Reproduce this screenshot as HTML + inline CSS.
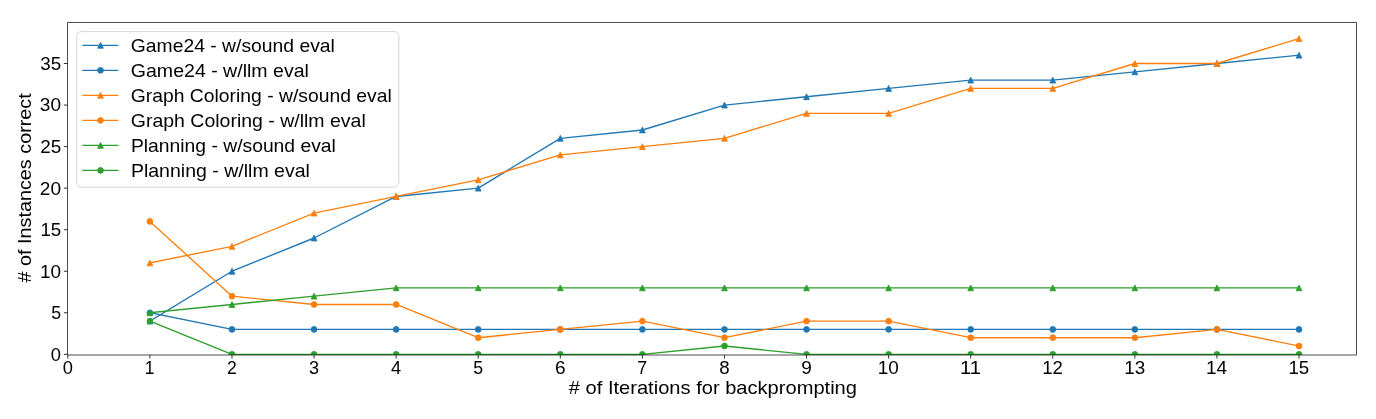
<!DOCTYPE html>
<html><head><meta charset="utf-8"><title>Backprompting chart</title>
<style>
html,body{margin:0;padding:0;background:#fff;}
body{width:1376px;height:419px;overflow:hidden;font-family:"Liberation Sans", sans-serif;}
svg{display:block;will-change:transform;}
</style></head><body>
<svg width="1376" height="419" viewBox="0 0 1376 419">
<defs><clipPath id="ax"><rect x="67.5" y="22.5" width="1289.0" height="332.50"/></clipPath></defs>
<rect width="1376" height="419" fill="#fff"/>
<g clip-path="url(#ax)">
<polyline points="149.90,321.09 231.98,271.24 314.06,238.00 396.14,196.46 478.22,188.15 560.30,138.30 642.38,129.99 724.46,105.06 806.54,96.75 888.62,88.44 970.70,80.13 1052.78,80.13 1134.86,71.82 1216.94,63.51 1299.02,55.21" fill="none" stroke="#1f77b4" stroke-width="1.35" stroke-linejoin="round" stroke-linecap="square"/>
<path d="M149.90 318.19L147.00 323.99L152.80 323.99Z" fill="#1f77b4" stroke="#1f77b4" stroke-width="0.86" stroke-linejoin="round"/>
<path d="M231.98 268.34L229.08 274.14L234.88 274.14Z" fill="#1f77b4" stroke="#1f77b4" stroke-width="0.86" stroke-linejoin="round"/>
<path d="M314.06 235.10L311.16 240.90L316.96 240.90Z" fill="#1f77b4" stroke="#1f77b4" stroke-width="0.86" stroke-linejoin="round"/>
<path d="M396.14 193.56L393.24 199.36L399.04 199.36Z" fill="#1f77b4" stroke="#1f77b4" stroke-width="0.86" stroke-linejoin="round"/>
<path d="M478.22 185.25L475.32 191.05L481.12 191.05Z" fill="#1f77b4" stroke="#1f77b4" stroke-width="0.86" stroke-linejoin="round"/>
<path d="M560.30 135.40L557.40 141.20L563.20 141.20Z" fill="#1f77b4" stroke="#1f77b4" stroke-width="0.86" stroke-linejoin="round"/>
<path d="M642.38 127.09L639.48 132.89L645.28 132.89Z" fill="#1f77b4" stroke="#1f77b4" stroke-width="0.86" stroke-linejoin="round"/>
<path d="M724.46 102.16L721.56 107.96L727.36 107.96Z" fill="#1f77b4" stroke="#1f77b4" stroke-width="0.86" stroke-linejoin="round"/>
<path d="M806.54 93.85L803.64 99.65L809.44 99.65Z" fill="#1f77b4" stroke="#1f77b4" stroke-width="0.86" stroke-linejoin="round"/>
<path d="M888.62 85.54L885.72 91.34L891.52 91.34Z" fill="#1f77b4" stroke="#1f77b4" stroke-width="0.86" stroke-linejoin="round"/>
<path d="M970.70 77.23L967.80 83.03L973.60 83.03Z" fill="#1f77b4" stroke="#1f77b4" stroke-width="0.86" stroke-linejoin="round"/>
<path d="M1052.78 77.23L1049.88 83.03L1055.68 83.03Z" fill="#1f77b4" stroke="#1f77b4" stroke-width="0.86" stroke-linejoin="round"/>
<path d="M1134.86 68.92L1131.96 74.72L1137.76 74.72Z" fill="#1f77b4" stroke="#1f77b4" stroke-width="0.86" stroke-linejoin="round"/>
<path d="M1216.94 60.61L1214.04 66.41L1219.84 66.41Z" fill="#1f77b4" stroke="#1f77b4" stroke-width="0.86" stroke-linejoin="round"/>
<path d="M1299.02 52.31L1296.12 58.11L1301.92 58.11Z" fill="#1f77b4" stroke="#1f77b4" stroke-width="0.86" stroke-linejoin="round"/>
<polyline points="149.90,312.78 231.98,329.40 314.06,329.40 396.14,329.40 478.22,329.40 560.30,329.40 642.38,329.40 724.46,329.40 806.54,329.40 888.62,329.40 970.70,329.40 1052.78,329.40 1134.86,329.40 1216.94,329.40 1299.02,329.40" fill="none" stroke="#1f77b4" stroke-width="1.35" stroke-linejoin="round" stroke-linecap="square"/>
<circle cx="149.90" cy="312.78" r="2.90" fill="#1f77b4" stroke="#1f77b4" stroke-width="0.86"/>
<circle cx="231.98" cy="329.40" r="2.90" fill="#1f77b4" stroke="#1f77b4" stroke-width="0.86"/>
<circle cx="314.06" cy="329.40" r="2.90" fill="#1f77b4" stroke="#1f77b4" stroke-width="0.86"/>
<circle cx="396.14" cy="329.40" r="2.90" fill="#1f77b4" stroke="#1f77b4" stroke-width="0.86"/>
<circle cx="478.22" cy="329.40" r="2.90" fill="#1f77b4" stroke="#1f77b4" stroke-width="0.86"/>
<circle cx="560.30" cy="329.40" r="2.90" fill="#1f77b4" stroke="#1f77b4" stroke-width="0.86"/>
<circle cx="642.38" cy="329.40" r="2.90" fill="#1f77b4" stroke="#1f77b4" stroke-width="0.86"/>
<circle cx="724.46" cy="329.40" r="2.90" fill="#1f77b4" stroke="#1f77b4" stroke-width="0.86"/>
<circle cx="806.54" cy="329.40" r="2.90" fill="#1f77b4" stroke="#1f77b4" stroke-width="0.86"/>
<circle cx="888.62" cy="329.40" r="2.90" fill="#1f77b4" stroke="#1f77b4" stroke-width="0.86"/>
<circle cx="970.70" cy="329.40" r="2.90" fill="#1f77b4" stroke="#1f77b4" stroke-width="0.86"/>
<circle cx="1052.78" cy="329.40" r="2.90" fill="#1f77b4" stroke="#1f77b4" stroke-width="0.86"/>
<circle cx="1134.86" cy="329.40" r="2.90" fill="#1f77b4" stroke="#1f77b4" stroke-width="0.86"/>
<circle cx="1216.94" cy="329.40" r="2.90" fill="#1f77b4" stroke="#1f77b4" stroke-width="0.86"/>
<circle cx="1299.02" cy="329.40" r="2.90" fill="#1f77b4" stroke="#1f77b4" stroke-width="0.86"/>
<polyline points="149.90,262.93 231.98,246.31 314.06,213.08 396.14,196.46 478.22,179.84 560.30,154.91 642.38,146.60 724.46,138.30 806.54,113.37 888.62,113.37 970.70,88.44 1052.78,88.44 1134.86,63.51 1216.94,63.51 1299.02,38.59" fill="none" stroke="#ff7f0e" stroke-width="1.35" stroke-linejoin="round" stroke-linecap="square"/>
<path d="M149.90 260.03L147.00 265.83L152.80 265.83Z" fill="#ff7f0e" stroke="#ff7f0e" stroke-width="0.86" stroke-linejoin="round"/>
<path d="M231.98 243.41L229.08 249.21L234.88 249.21Z" fill="#ff7f0e" stroke="#ff7f0e" stroke-width="0.86" stroke-linejoin="round"/>
<path d="M314.06 210.18L311.16 215.98L316.96 215.98Z" fill="#ff7f0e" stroke="#ff7f0e" stroke-width="0.86" stroke-linejoin="round"/>
<path d="M396.14 193.56L393.24 199.36L399.04 199.36Z" fill="#ff7f0e" stroke="#ff7f0e" stroke-width="0.86" stroke-linejoin="round"/>
<path d="M478.22 176.94L475.32 182.74L481.12 182.74Z" fill="#ff7f0e" stroke="#ff7f0e" stroke-width="0.86" stroke-linejoin="round"/>
<path d="M560.30 152.01L557.40 157.81L563.20 157.81Z" fill="#ff7f0e" stroke="#ff7f0e" stroke-width="0.86" stroke-linejoin="round"/>
<path d="M642.38 143.70L639.48 149.50L645.28 149.50Z" fill="#ff7f0e" stroke="#ff7f0e" stroke-width="0.86" stroke-linejoin="round"/>
<path d="M724.46 135.40L721.56 141.20L727.36 141.20Z" fill="#ff7f0e" stroke="#ff7f0e" stroke-width="0.86" stroke-linejoin="round"/>
<path d="M806.54 110.47L803.64 116.27L809.44 116.27Z" fill="#ff7f0e" stroke="#ff7f0e" stroke-width="0.86" stroke-linejoin="round"/>
<path d="M888.62 110.47L885.72 116.27L891.52 116.27Z" fill="#ff7f0e" stroke="#ff7f0e" stroke-width="0.86" stroke-linejoin="round"/>
<path d="M970.70 85.54L967.80 91.34L973.60 91.34Z" fill="#ff7f0e" stroke="#ff7f0e" stroke-width="0.86" stroke-linejoin="round"/>
<path d="M1052.78 85.54L1049.88 91.34L1055.68 91.34Z" fill="#ff7f0e" stroke="#ff7f0e" stroke-width="0.86" stroke-linejoin="round"/>
<path d="M1134.86 60.61L1131.96 66.41L1137.76 66.41Z" fill="#ff7f0e" stroke="#ff7f0e" stroke-width="0.86" stroke-linejoin="round"/>
<path d="M1216.94 60.61L1214.04 66.41L1219.84 66.41Z" fill="#ff7f0e" stroke="#ff7f0e" stroke-width="0.86" stroke-linejoin="round"/>
<path d="M1299.02 35.69L1296.12 41.49L1301.92 41.49Z" fill="#ff7f0e" stroke="#ff7f0e" stroke-width="0.86" stroke-linejoin="round"/>
<polyline points="149.90,221.39 231.98,296.17 314.06,304.48 396.14,304.48 478.22,337.71 560.30,329.40 642.38,321.09 724.46,337.71 806.54,321.09 888.62,321.09 970.70,337.71 1052.78,337.71 1134.86,337.71 1216.94,329.40 1299.02,346.02" fill="none" stroke="#ff7f0e" stroke-width="1.35" stroke-linejoin="round" stroke-linecap="square"/>
<circle cx="149.90" cy="221.39" r="2.90" fill="#ff7f0e" stroke="#ff7f0e" stroke-width="0.86"/>
<circle cx="231.98" cy="296.17" r="2.90" fill="#ff7f0e" stroke="#ff7f0e" stroke-width="0.86"/>
<circle cx="314.06" cy="304.48" r="2.90" fill="#ff7f0e" stroke="#ff7f0e" stroke-width="0.86"/>
<circle cx="396.14" cy="304.48" r="2.90" fill="#ff7f0e" stroke="#ff7f0e" stroke-width="0.86"/>
<circle cx="478.22" cy="337.71" r="2.90" fill="#ff7f0e" stroke="#ff7f0e" stroke-width="0.86"/>
<circle cx="560.30" cy="329.40" r="2.90" fill="#ff7f0e" stroke="#ff7f0e" stroke-width="0.86"/>
<circle cx="642.38" cy="321.09" r="2.90" fill="#ff7f0e" stroke="#ff7f0e" stroke-width="0.86"/>
<circle cx="724.46" cy="337.71" r="2.90" fill="#ff7f0e" stroke="#ff7f0e" stroke-width="0.86"/>
<circle cx="806.54" cy="321.09" r="2.90" fill="#ff7f0e" stroke="#ff7f0e" stroke-width="0.86"/>
<circle cx="888.62" cy="321.09" r="2.90" fill="#ff7f0e" stroke="#ff7f0e" stroke-width="0.86"/>
<circle cx="970.70" cy="337.71" r="2.90" fill="#ff7f0e" stroke="#ff7f0e" stroke-width="0.86"/>
<circle cx="1052.78" cy="337.71" r="2.90" fill="#ff7f0e" stroke="#ff7f0e" stroke-width="0.86"/>
<circle cx="1134.86" cy="337.71" r="2.90" fill="#ff7f0e" stroke="#ff7f0e" stroke-width="0.86"/>
<circle cx="1216.94" cy="329.40" r="2.90" fill="#ff7f0e" stroke="#ff7f0e" stroke-width="0.86"/>
<circle cx="1299.02" cy="346.02" r="2.90" fill="#ff7f0e" stroke="#ff7f0e" stroke-width="0.86"/>
<polyline points="149.90,312.78 231.98,304.48 314.06,296.17 396.14,287.86 478.22,287.86 560.30,287.86 642.38,287.86 724.46,287.86 806.54,287.86 888.62,287.86 970.70,287.86 1052.78,287.86 1134.86,287.86 1216.94,287.86 1299.02,287.86" fill="none" stroke="#2ca02c" stroke-width="1.35" stroke-linejoin="round" stroke-linecap="square"/>
<path d="M149.90 309.88L147.00 315.68L152.80 315.68Z" fill="#2ca02c" stroke="#2ca02c" stroke-width="0.86" stroke-linejoin="round"/>
<path d="M231.98 301.58L229.08 307.38L234.88 307.38Z" fill="#2ca02c" stroke="#2ca02c" stroke-width="0.86" stroke-linejoin="round"/>
<path d="M314.06 293.27L311.16 299.07L316.96 299.07Z" fill="#2ca02c" stroke="#2ca02c" stroke-width="0.86" stroke-linejoin="round"/>
<path d="M396.14 284.96L393.24 290.76L399.04 290.76Z" fill="#2ca02c" stroke="#2ca02c" stroke-width="0.86" stroke-linejoin="round"/>
<path d="M478.22 284.96L475.32 290.76L481.12 290.76Z" fill="#2ca02c" stroke="#2ca02c" stroke-width="0.86" stroke-linejoin="round"/>
<path d="M560.30 284.96L557.40 290.76L563.20 290.76Z" fill="#2ca02c" stroke="#2ca02c" stroke-width="0.86" stroke-linejoin="round"/>
<path d="M642.38 284.96L639.48 290.76L645.28 290.76Z" fill="#2ca02c" stroke="#2ca02c" stroke-width="0.86" stroke-linejoin="round"/>
<path d="M724.46 284.96L721.56 290.76L727.36 290.76Z" fill="#2ca02c" stroke="#2ca02c" stroke-width="0.86" stroke-linejoin="round"/>
<path d="M806.54 284.96L803.64 290.76L809.44 290.76Z" fill="#2ca02c" stroke="#2ca02c" stroke-width="0.86" stroke-linejoin="round"/>
<path d="M888.62 284.96L885.72 290.76L891.52 290.76Z" fill="#2ca02c" stroke="#2ca02c" stroke-width="0.86" stroke-linejoin="round"/>
<path d="M970.70 284.96L967.80 290.76L973.60 290.76Z" fill="#2ca02c" stroke="#2ca02c" stroke-width="0.86" stroke-linejoin="round"/>
<path d="M1052.78 284.96L1049.88 290.76L1055.68 290.76Z" fill="#2ca02c" stroke="#2ca02c" stroke-width="0.86" stroke-linejoin="round"/>
<path d="M1134.86 284.96L1131.96 290.76L1137.76 290.76Z" fill="#2ca02c" stroke="#2ca02c" stroke-width="0.86" stroke-linejoin="round"/>
<path d="M1216.94 284.96L1214.04 290.76L1219.84 290.76Z" fill="#2ca02c" stroke="#2ca02c" stroke-width="0.86" stroke-linejoin="round"/>
<path d="M1299.02 284.96L1296.12 290.76L1301.92 290.76Z" fill="#2ca02c" stroke="#2ca02c" stroke-width="0.86" stroke-linejoin="round"/>
<polyline points="149.90,321.09 231.98,354.33 314.06,354.33 396.14,354.33 478.22,354.33 560.30,354.33 642.38,354.33 724.46,346.02 806.54,354.33 888.62,354.33 970.70,354.33 1052.78,354.33 1134.86,354.33 1216.94,354.33 1299.02,354.33" fill="none" stroke="#2ca02c" stroke-width="1.35" stroke-linejoin="round" stroke-linecap="square"/>
<circle cx="149.90" cy="321.09" r="2.90" fill="#2ca02c" stroke="#2ca02c" stroke-width="0.86"/>
<circle cx="231.98" cy="354.33" r="2.90" fill="#2ca02c" stroke="#2ca02c" stroke-width="0.86"/>
<circle cx="314.06" cy="354.33" r="2.90" fill="#2ca02c" stroke="#2ca02c" stroke-width="0.86"/>
<circle cx="396.14" cy="354.33" r="2.90" fill="#2ca02c" stroke="#2ca02c" stroke-width="0.86"/>
<circle cx="478.22" cy="354.33" r="2.90" fill="#2ca02c" stroke="#2ca02c" stroke-width="0.86"/>
<circle cx="560.30" cy="354.33" r="2.90" fill="#2ca02c" stroke="#2ca02c" stroke-width="0.86"/>
<circle cx="642.38" cy="354.33" r="2.90" fill="#2ca02c" stroke="#2ca02c" stroke-width="0.86"/>
<circle cx="724.46" cy="346.02" r="2.90" fill="#2ca02c" stroke="#2ca02c" stroke-width="0.86"/>
<circle cx="806.54" cy="354.33" r="2.90" fill="#2ca02c" stroke="#2ca02c" stroke-width="0.86"/>
<circle cx="888.62" cy="354.33" r="2.90" fill="#2ca02c" stroke="#2ca02c" stroke-width="0.86"/>
<circle cx="970.70" cy="354.33" r="2.90" fill="#2ca02c" stroke="#2ca02c" stroke-width="0.86"/>
<circle cx="1052.78" cy="354.33" r="2.90" fill="#2ca02c" stroke="#2ca02c" stroke-width="0.86"/>
<circle cx="1134.86" cy="354.33" r="2.90" fill="#2ca02c" stroke="#2ca02c" stroke-width="0.86"/>
<circle cx="1216.94" cy="354.33" r="2.90" fill="#2ca02c" stroke="#2ca02c" stroke-width="0.86"/>
<circle cx="1299.02" cy="354.33" r="2.90" fill="#2ca02c" stroke="#2ca02c" stroke-width="0.86"/>
</g>
<path d="M67.5 22.5H1356.5V355.0H67.5Z" stroke="#000" stroke-width="0.7" fill="none"/>
<path d="M67.82 355.0v3.6M149.90 355.0v3.6M231.98 355.0v3.6M314.06 355.0v3.6M396.14 355.0v3.6M478.22 355.0v3.6M560.30 355.0v3.6M642.38 355.0v3.6M724.46 355.0v3.6M806.54 355.0v3.6M888.62 355.0v3.6M970.70 355.0v3.6M1052.78 355.0v3.6M1134.86 355.0v3.6M1216.94 355.0v3.6M1299.02 355.0v3.6M67.5 354.33h-3.6M67.5 312.78h-3.6M67.5 271.24h-3.6M67.5 229.69h-3.6M67.5 188.15h-3.6M67.5 146.60h-3.6M67.5 105.06h-3.6M67.5 63.51h-3.6" stroke="#000" stroke-width="0.8" fill="none"/>
<rect x="76.7" y="31.6" width="322.10" height="155.60" rx="4.3" ry="4.3" fill="#fff" fill-opacity="0.8" stroke="#cccccc" stroke-width="0.8"/>
<path d="M83.0 45.30H117.6" stroke="#1f77b4" stroke-width="1.35" stroke-linecap="square"/>
<path d="M100.50 42.40L97.60 48.20L103.40 48.20Z" fill="#1f77b4" stroke="#1f77b4" stroke-width="0.86" stroke-linejoin="round"/>
<path d="M83.0 70.32H117.6" stroke="#1f77b4" stroke-width="1.35" stroke-linecap="square"/>
<circle cx="100.50" cy="70.32" r="2.90" fill="#1f77b4" stroke="#1f77b4" stroke-width="0.86"/>
<path d="M83.0 95.34H117.6" stroke="#ff7f0e" stroke-width="1.35" stroke-linecap="square"/>
<path d="M100.50 92.44L97.60 98.24L103.40 98.24Z" fill="#ff7f0e" stroke="#ff7f0e" stroke-width="0.86" stroke-linejoin="round"/>
<path d="M83.0 120.36H117.6" stroke="#ff7f0e" stroke-width="1.35" stroke-linecap="square"/>
<circle cx="100.50" cy="120.36" r="2.90" fill="#ff7f0e" stroke="#ff7f0e" stroke-width="0.86"/>
<path d="M83.0 145.38H117.6" stroke="#2ca02c" stroke-width="1.35" stroke-linecap="square"/>
<path d="M100.50 142.48L97.60 148.28L103.40 148.28Z" fill="#2ca02c" stroke="#2ca02c" stroke-width="0.86" stroke-linejoin="round"/>
<path d="M83.0 170.40H117.6" stroke="#2ca02c" stroke-width="1.35" stroke-linecap="square"/>
<circle cx="100.50" cy="170.40" r="2.90" fill="#2ca02c" stroke="#2ca02c" stroke-width="0.86"/>
<g font-family="Liberation Sans, sans-serif" font-size="18.1" fill="#000">
<text x="62.82" y="374.10" textLength="10.20" lengthAdjust="spacingAndGlyphs">0</text>
<text x="144.85" y="374.10" textLength="9.68" lengthAdjust="spacingAndGlyphs">1</text>
<text x="227.09" y="374.10" textLength="9.78" lengthAdjust="spacingAndGlyphs">2</text>
<text x="309.10" y="374.10" textLength="10.08" lengthAdjust="spacingAndGlyphs">3</text>
<text x="391.08" y="374.10" textLength="10.16" lengthAdjust="spacingAndGlyphs">4</text>
<text x="473.32" y="374.10" textLength="9.88" lengthAdjust="spacingAndGlyphs">5</text>
<text x="554.97" y="374.10" textLength="10.62" lengthAdjust="spacingAndGlyphs">6</text>
<text x="637.36" y="374.10" textLength="9.90" lengthAdjust="spacingAndGlyphs">7</text>
<text x="719.24" y="374.10" textLength="10.40" lengthAdjust="spacingAndGlyphs">8</text>
<text x="801.37" y="374.10" textLength="10.59" lengthAdjust="spacingAndGlyphs">9</text>
<text x="877.75" y="374.10" textLength="21.10" lengthAdjust="spacingAndGlyphs">10</text>
<text x="959.99" y="374.10" textLength="20.97" lengthAdjust="spacingAndGlyphs">11</text>
<text x="1042.16" y="374.10" textLength="20.69" lengthAdjust="spacingAndGlyphs">12</text>
<text x="1124.22" y="374.10" textLength="20.99" lengthAdjust="spacingAndGlyphs">13</text>
<text x="1205.96" y="374.10" textLength="21.08" lengthAdjust="spacingAndGlyphs">14</text>
<text x="1288.40" y="374.10" textLength="20.85" lengthAdjust="spacingAndGlyphs">15</text>
<text x="50.84" y="360.73" textLength="10.21" lengthAdjust="spacingAndGlyphs">0</text>
<text x="51.35" y="319.18" textLength="9.88" lengthAdjust="spacingAndGlyphs">5</text>
<text x="39.95" y="277.64" textLength="21.12" lengthAdjust="spacingAndGlyphs">10</text>
<text x="40.41" y="236.09" textLength="20.85" lengthAdjust="spacingAndGlyphs">15</text>
<text x="39.79" y="194.55" textLength="21.28" lengthAdjust="spacingAndGlyphs">20</text>
<text x="40.28" y="153.00" textLength="21.00" lengthAdjust="spacingAndGlyphs">25</text>
<text x="39.84" y="111.46" textLength="21.23" lengthAdjust="spacingAndGlyphs">30</text>
<text x="40.33" y="69.91" textLength="20.94" lengthAdjust="spacingAndGlyphs">35</text>
<text x="568.80" y="394.40" textLength="288.17" lengthAdjust="spacingAndGlyphs"># of Iterations for backprompting</text>
<g transform="translate(30.9,187.95) rotate(-90)"><text x="-94.51" y="0.00" textLength="189.20" lengthAdjust="spacingAndGlyphs"># of Instances correct</text></g>
<text x="130.83" y="51.60" textLength="204.03" lengthAdjust="spacingAndGlyphs">Game24 - w/sound eval</text>
<text x="130.82" y="76.62" textLength="178.06" lengthAdjust="spacingAndGlyphs">Game24 - w/llm eval</text>
<text x="130.82" y="101.64" textLength="260.91" lengthAdjust="spacingAndGlyphs">Graph Coloring - w/sound eval</text>
<text x="130.81" y="126.66" textLength="234.96" lengthAdjust="spacingAndGlyphs">Graph Coloring - w/llm eval</text>
<text x="130.94" y="151.68" textLength="204.92" lengthAdjust="spacingAndGlyphs">Planning - w/sound eval</text>
<text x="130.93" y="176.70" textLength="178.96" lengthAdjust="spacingAndGlyphs">Planning - w/llm eval</text>
</g>
</svg>
</body></html>
